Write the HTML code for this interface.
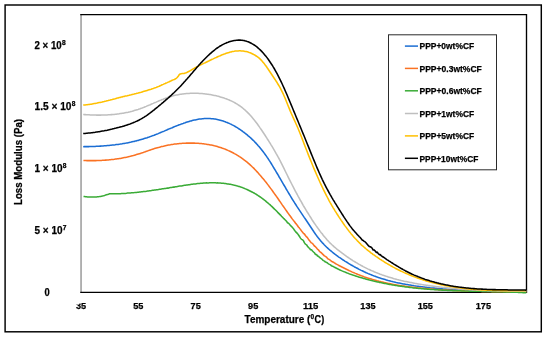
<!DOCTYPE html>
<html><head><meta charset="utf-8"><title>Loss Modulus vs Temperature</title>
<style>html,body{margin:0;padding:0;background:#fff;}svg{display:block;}</style></head>
<body>
<svg width="550" height="338" viewBox="0 0 550 338">
<rect x="0" y="0" width="550" height="338" fill="#fff"/>
<rect x="5.1" y="5.0" width="536.2" height="326.8" fill="none" stroke="#000" stroke-width="1.45"/>
<line x1="81.05" y1="15" x2="81.05" y2="293" stroke="#a0a0a0" stroke-width="1.6"/>
<path d="M80.2 14.65H526.5V292.35H80.3" fill="none" stroke="#000" stroke-width="1.35"/>
<g fill="none" stroke-width="1.55" stroke-linejoin="round" stroke-linecap="butt">
<path d="M83.2 146.7L84.2 146.6L85.2 146.6L86.2 146.6L87.2 146.6L88.2 146.6L89.2 146.6L90.2 146.5L91.2 146.5L92.2 146.5L93.2 146.4L94.2 146.4L95.2 146.4L96.2 146.3L97.2 146.3L98.2 146.2L99.2 146.2L100.2 146.1L101.2 146.1L102.2 146.0L103.2 145.9L104.2 145.8L105.2 145.8L106.2 145.7L107.2 145.6L108.2 145.5L109.2 145.4L110.2 145.3L111.2 145.2L112.2 145.1L113.2 145.0L114.2 144.9L115.2 144.8L116.2 144.6L117.2 144.5L118.2 144.4L119.2 144.2L120.2 144.1L121.2 143.9L122.2 143.8L123.2 143.6L124.2 143.4L125.2 143.2L126.2 143.1L127.2 142.9L128.2 142.7L129.2 142.5L130.2 142.3L131.2 142.1L132.2 141.8L133.2 141.6L134.2 141.4L135.2 141.1L136.2 140.9L137.2 140.6L138.2 140.4L139.2 140.1L140.2 139.8L141.2 139.5L142.2 139.2L143.2 138.9L144.2 138.6L145.2 138.3L146.2 138.0L147.2 137.7L148.2 137.3L149.2 137.0L150.2 136.6L151.2 136.3L152.2 135.9L153.2 135.5L154.2 135.2L155.2 134.8L156.2 134.4L157.2 134.0L158.2 133.6L159.2 133.1L160.2 132.7L161.2 132.3L162.2 131.9L163.2 131.5L164.2 131.1L165.2 130.6L166.2 130.2L167.2 129.8L168.2 129.3L169.2 128.9L170.2 128.5L171.2 128.1L172.2 127.7L173.2 127.2L174.2 126.8L175.2 126.4L176.2 126.0L177.2 125.6L178.2 125.2L179.2 124.8L180.2 124.5L181.2 124.1L182.2 123.7L183.2 123.4L184.2 123.0L185.2 122.7L186.2 122.3L187.2 122.0L188.2 121.7L189.2 121.4L190.2 121.1L191.2 120.9L192.2 120.6L193.2 120.3L194.2 120.1L195.2 119.9L196.2 119.7L197.2 119.5L198.2 119.3L199.2 119.1L200.2 119.0L201.2 118.9L202.2 118.8L203.2 118.7L204.2 118.6L205.2 118.5L206.2 118.5L207.2 118.5L208.2 118.5L209.2 118.5L210.2 118.6L211.2 118.7L212.2 118.7L213.2 118.8L214.2 119.0L215.2 119.1L216.2 119.3L217.2 119.5L218.2 119.7L219.2 119.9L220.2 120.2L221.2 120.5L222.2 120.8L223.2 121.1L224.2 121.4L225.2 121.8L226.2 122.2L227.2 122.5L228.2 123.0L229.2 123.4L230.2 123.9L231.2 124.3L232.2 124.9L233.2 125.4L234.2 125.9L235.2 126.5L236.2 127.1L237.2 127.7L238.2 128.3L239.2 129.0L240.2 129.6L241.2 130.3L242.2 131.0L243.2 131.8L244.2 132.5L245.2 133.3L246.2 134.1L247.2 134.9L248.2 135.8L249.2 136.6L250.2 137.5L251.2 138.4L252.2 139.4L253.2 140.3L254.2 141.3L255.2 142.4L256.2 143.4L257.2 144.5L258.2 145.7L259.2 146.8L260.2 148.0L261.2 149.2L262.2 150.5L263.2 151.8L264.2 153.1L265.2 154.5L266.2 155.9L267.2 157.4L268.2 158.8L269.2 160.4L270.2 161.9L271.2 163.5L272.2 165.2L273.2 166.8L274.2 168.5L275.2 170.1L276.2 171.8L277.2 173.5L278.2 175.2L279.2 177.0L280.2 178.7L281.2 180.4L282.2 182.1L283.2 183.8L284.2 185.5L285.2 187.2L286.2 189.0L287.2 190.7L288.2 192.3L289.2 194.0L290.2 195.7L291.2 197.3L292.2 199.0L293.2 200.6L294.2 202.2L295.2 203.8L296.2 205.3L297.2 206.9L298.2 208.4L299.2 209.9L300.2 211.4L301.2 212.9L302.2 214.4L303.2 215.9L304.2 217.4L305.2 218.8L306.2 220.3L307.2 221.8L308.2 223.3L309.2 224.8L310.2 226.3L311.2 227.8L312.2 229.3L313.2 230.8L314.2 232.3L315.2 233.7L316.2 235.1L317.2 236.5L318.2 237.8L319.2 239.0L320.2 240.2L321.2 241.4L322.2 242.6L323.2 243.6L324.2 244.7L325.2 245.7L326.2 246.7L327.2 247.7L328.2 248.6L329.2 249.5L330.2 250.4L331.2 251.2L332.2 252.0L333.2 252.8L334.2 253.6L335.2 254.4L336.2 255.1L337.2 255.8L338.2 256.6L339.2 257.3L340.2 257.9L341.2 258.6L342.2 259.3L343.2 260.0L344.2 260.6L345.2 261.3L346.2 261.9L347.2 262.5L348.2 263.2L349.2 263.8L350.2 264.4L351.2 265.0L352.2 265.5L353.2 266.1L354.2 266.7L355.2 267.2L356.2 267.8L357.2 268.3L358.2 268.8L359.2 269.4L360.2 269.9L361.2 270.4L362.2 270.8L363.2 271.3L364.2 271.8L365.2 272.2L366.2 272.7L367.2 273.1L368.2 273.6L369.2 274.0L370.2 274.4L371.2 274.8L372.2 275.2L373.2 275.6L374.2 276.0L375.2 276.3L376.2 276.7L377.2 277.1L378.2 277.4L379.2 277.7L380.2 278.1L381.2 278.4L382.2 278.7L383.2 279.0L384.2 279.3L385.2 279.6L386.2 279.9L387.2 280.2L388.2 280.5L389.2 280.7L390.2 281.0L391.2 281.3L392.2 281.5L393.2 281.8L394.2 282.0L395.2 282.2L396.2 282.5L397.2 282.7L398.2 282.9L399.2 283.1L400.2 283.3L401.2 283.5L402.2 283.7L403.2 283.9L404.2 284.1L405.2 284.3L406.2 284.5L407.2 284.6L408.2 284.8L409.2 285.0L410.2 285.1L411.2 285.3L412.2 285.5L413.2 285.6L414.2 285.8L415.2 285.9L416.2 286.1L417.2 286.2L418.2 286.3L419.2 286.5L420.2 286.6L421.2 286.7L422.2 286.8L423.2 287.0L424.2 287.1L425.2 287.2L426.2 287.3L427.2 287.4L428.2 287.5L429.2 287.6L430.2 287.8L431.2 287.9L432.2 288.0L433.2 288.1L434.2 288.1L435.2 288.2L436.2 288.3L437.2 288.4L438.2 288.5L439.2 288.6L440.2 288.7L441.2 288.8L442.2 288.8L443.2 288.9L444.2 289.0L445.2 289.1L446.2 289.1L447.2 289.2L448.2 289.3L449.2 289.4L450.2 289.4L451.2 289.5L452.2 289.5L453.2 289.6L454.2 289.6L455.2 289.7L456.2 289.8L457.2 289.8L458.2 289.9L459.2 289.9L460.2 290.0L461.2 290.0L462.2 290.1L463.2 290.1L464.2 290.1L465.2 290.2L466.2 290.2L467.2 290.3L468.2 290.3L469.2 290.4L470.2 290.4L471.2 290.4L472.2 290.4L473.2 290.5L474.2 290.5L475.2 290.5L476.2 290.6L477.2 290.6L478.2 290.6L479.2 290.7L480.2 290.7L481.2 290.7L482.2 290.7L483.2 290.8L484.2 290.8L485.2 290.8L486.2 290.8L487.2 290.8L488.2 290.9L489.2 290.9L490.2 290.9L491.2 290.9L492.2 290.9L493.2 290.9L494.2 291.0L495.2 291.0L496.2 291.0L497.2 291.0L498.2 291.0L499.2 291.0L500.2 291.1L501.2 291.1L502.2 291.1L503.2 291.1L504.2 291.1L505.2 291.1L506.2 291.1L507.2 291.1L508.2 291.1L509.2 291.2L510.2 291.2L511.2 291.2L512.2 291.2L513.2 291.2L514.2 291.2L515.2 291.2L516.2 291.3L517.2 291.3L518.2 291.3L519.2 291.3L520.2 291.3L521.2 291.3L522.2 291.3L523.2 291.4L524.2 291.4L525.2 291.4L526.3 291.4" stroke="#1a6dd3"/>
<path d="M83.4 160.5L84.4 160.5L85.4 160.5L86.4 160.6L87.4 160.6L88.4 160.6L89.4 160.6L90.4 160.6L91.4 160.6L92.4 160.6L93.4 160.6L94.4 160.6L95.4 160.6L96.4 160.6L97.4 160.5L98.4 160.5L99.4 160.5L100.4 160.4L101.4 160.4L102.4 160.3L103.4 160.3L104.4 160.2L105.4 160.1L106.4 160.1L107.4 160.0L108.4 159.9L109.4 159.8L110.4 159.7L111.4 159.6L112.4 159.5L113.4 159.4L114.4 159.3L115.4 159.1L116.4 159.0L117.4 158.8L118.4 158.7L119.4 158.5L120.4 158.4L121.4 158.2L122.4 158.0L123.4 157.8L124.4 157.6L125.4 157.4L126.4 157.2L127.4 157.0L128.4 156.7L129.4 156.5L130.4 156.3L131.4 156.0L132.4 155.7L133.4 155.5L134.4 155.2L135.4 154.9L136.4 154.6L137.4 154.3L138.4 154.0L139.4 153.7L140.4 153.4L141.4 153.1L142.4 152.7L143.4 152.4L144.4 152.0L145.4 151.7L146.4 151.3L147.4 151.0L148.4 150.6L149.4 150.2L150.4 149.9L151.4 149.6L152.4 149.2L153.4 148.9L154.4 148.6L155.4 148.3L156.4 148.0L157.4 147.7L158.4 147.4L159.4 147.2L160.4 146.9L161.4 146.6L162.4 146.4L163.4 146.2L164.4 145.9L165.4 145.7L166.4 145.5L167.4 145.3L168.4 145.1L169.4 144.9L170.4 144.8L171.4 144.6L172.4 144.4L173.4 144.3L174.4 144.1L175.4 144.0L176.4 143.9L177.4 143.8L178.4 143.7L179.4 143.6L180.4 143.5L181.4 143.4L182.4 143.3L183.4 143.3L184.4 143.2L185.4 143.2L186.4 143.1L187.4 143.1L188.4 143.1L189.4 143.1L190.4 143.1L191.4 143.1L192.4 143.1L193.4 143.1L194.4 143.1L195.4 143.2L196.4 143.2L197.4 143.3L198.4 143.3L199.4 143.4L200.4 143.5L201.4 143.6L202.4 143.7L203.4 143.8L204.4 143.9L205.4 144.1L206.4 144.2L207.4 144.4L208.4 144.5L209.4 144.7L210.4 144.9L211.4 145.1L212.4 145.3L213.4 145.5L214.4 145.8L215.4 146.0L216.4 146.3L217.4 146.6L218.4 146.9L219.4 147.2L220.4 147.5L221.4 147.8L222.4 148.2L223.4 148.5L224.4 148.9L225.4 149.3L226.4 149.7L227.4 150.1L228.4 150.6L229.4 151.0L230.4 151.5L231.4 152.0L232.4 152.5L233.4 153.0L234.4 153.6L235.4 154.1L236.4 154.7L237.4 155.3L238.4 155.9L239.4 156.6L240.4 157.2L241.4 157.9L242.4 158.6L243.4 159.3L244.4 160.1L245.4 160.8L246.4 161.6L247.4 162.4L248.4 163.3L249.4 164.2L250.4 165.1L251.4 166.0L252.4 167.0L253.4 167.9L254.4 168.9L255.4 170.0L256.4 171.1L257.4 172.1L258.4 173.2L259.4 174.4L260.4 175.5L261.4 176.7L262.4 177.9L263.4 179.1L264.4 180.3L265.4 181.6L266.4 182.8L267.4 184.1L268.4 185.4L269.4 186.8L270.4 188.1L271.4 189.4L272.4 190.8L273.4 192.2L274.4 193.6L275.4 195.0L276.4 196.4L277.4 197.8L278.4 199.2L279.4 200.7L280.4 202.1L281.4 203.6L282.4 205.1L283.4 206.5L284.4 207.9L285.4 209.4L286.4 210.8L287.4 212.2L288.4 213.6L289.4 215.0L290.4 216.3L291.4 217.7L292.4 219.1L293.4 220.4L294.4 221.5L295.4 223.1L296.4 224.1L297.4 225.5L298.4 227.0L299.4 228.1L300.4 229.4L301.4 230.8L302.4 232.1L303.4 233.3L304.4 234.0L305.4 235.5L306.4 236.7L307.4 237.6L308.4 239.2L309.4 240.4L310.4 241.7L311.4 242.9L312.4 243.4L313.4 244.6L314.4 246.0L315.4 246.7L316.4 247.8L317.4 249.1L318.4 249.8L319.4 251.2L320.4 252.2L321.4 252.7L322.4 253.9L323.4 254.9L324.4 255.9L325.4 256.4L326.4 257.1L327.4 258.3L328.4 259.1L329.4 259.5L330.4 260.3L331.4 261.1L332.4 261.8L333.4 262.2L334.4 262.9L335.4 263.5L336.4 264.1L337.4 264.6L338.4 265.2L339.4 265.7L340.4 266.2L341.4 266.7L342.4 267.2L343.4 267.7L344.4 268.2L345.4 268.7L346.4 269.2L347.4 269.7L348.4 270.2L349.4 270.7L350.4 271.1L351.4 271.6L352.4 272.1L353.4 272.5L354.4 272.9L355.4 273.4L356.4 273.8L357.4 274.2L358.4 274.6L359.4 275.0L360.4 275.4L361.4 275.8L362.4 276.1L363.4 276.5L364.4 276.9L365.4 277.2L366.4 277.6L367.4 277.9L368.4 278.2L369.4 278.5L370.4 278.8L371.4 279.1L372.4 279.4L373.4 279.7L374.4 280.0L375.4 280.3L376.4 280.6L377.4 280.9L378.4 281.1L379.4 281.4L380.4 281.6L381.4 281.9L382.4 282.1L383.4 282.3L384.4 282.6L385.4 282.8L386.4 283.0L387.4 283.2L388.4 283.4L389.4 283.6L390.4 283.8L391.4 284.0L392.4 284.2L393.4 284.4L394.4 284.6L395.4 284.7L396.4 284.9L397.4 285.1L398.4 285.2L399.4 285.4L400.4 285.6L401.4 285.7L402.4 285.9L403.4 286.0L404.4 286.1L405.4 286.3L406.4 286.4L407.4 286.6L408.4 286.7L409.4 286.8L410.4 286.9L411.4 287.1L412.4 287.2L413.4 287.3L414.4 287.4L415.4 287.5L416.4 287.6L417.4 287.8L418.4 287.9L419.4 288.0L420.4 288.1L421.4 288.2L422.4 288.3L423.4 288.4L424.4 288.5L425.4 288.6L426.4 288.6L427.4 288.7L428.4 288.8L429.4 288.9L430.4 289.0L431.4 289.1L432.4 289.1L433.4 289.2L434.4 289.3L435.4 289.4L436.4 289.4L437.4 289.5L438.4 289.6L439.4 289.6L440.4 289.7L441.4 289.8L442.4 289.8L443.4 289.9L444.4 290.0L445.4 290.0L446.4 290.1L447.4 290.1L448.4 290.2L449.4 290.2L450.4 290.3L451.4 290.3L452.4 290.4L453.4 290.4L454.4 290.5L455.4 290.5L456.4 290.6L457.4 290.6L458.4 290.6L459.4 290.7L460.4 290.7L461.4 290.8L462.4 290.8L463.4 290.8L464.4 290.9L465.4 290.9L466.4 290.9L467.4 291.0L468.4 291.0L469.4 291.0L470.4 291.1L471.4 291.1L472.4 291.1L473.4 291.1L474.4 291.2L475.4 291.2L476.4 291.2L477.4 291.3L478.4 291.3L479.4 291.3L480.4 291.3L481.4 291.4L482.4 291.4L483.4 291.4L484.4 291.4L485.4 291.4L486.4 291.5L487.4 291.5L488.4 291.5L489.4 291.5L490.4 291.5L491.4 291.6L492.4 291.6L493.4 291.6L494.4 291.6L495.4 291.6L496.4 291.7L497.4 291.7L498.4 291.7L499.4 291.7L500.4 291.7L501.4 291.8L502.4 291.8L503.4 291.8L504.4 291.8L505.4 291.8L506.4 291.9L507.4 291.9L508.4 291.9L509.4 291.9L510.4 291.9L511.4 291.9L512.4 292.0L513.4 292.0L514.4 292.0L515.4 292.0L516.4 292.1L517.4 292.1L518.4 292.1L519.4 292.1L520.4 292.2L521.4 292.2L522.4 292.2L523.4 292.2L524.4 292.3L526.3 292.3" stroke="#fa7223"/>
<path d="M83.5 196.4L84.5 196.5L85.5 196.7L86.5 196.8L87.5 196.9L88.5 197.0L89.5 197.0L90.5 197.0L91.5 197.0L92.5 197.0L93.5 197.0L94.5 197.0L95.5 196.9L96.5 196.9L97.5 196.8L98.5 196.7L99.5 196.6L100.5 196.4L101.5 196.2L102.5 196.0L103.5 195.8L104.5 195.5L105.5 195.1L106.5 194.8L107.5 194.5L108.5 194.2L109.5 193.8L110.5 193.7L111.5 193.7L112.5 193.7L113.5 193.7L114.5 193.8L115.5 193.8L116.5 193.8L117.5 193.7L118.5 193.8L119.5 193.8L120.5 193.7L121.5 193.6L122.5 193.5L123.5 193.6L124.5 193.5L125.5 193.4L126.5 193.3L127.5 193.1L128.5 193.0L129.5 192.9L130.5 192.9L131.5 192.8L132.5 192.8L133.5 192.7L134.5 192.6L135.5 192.4L136.5 192.4L137.5 192.3L138.5 192.2L139.5 192.0L140.5 192.0L141.5 191.8L142.5 191.8L143.5 191.6L144.5 191.4L145.5 191.4L146.5 191.3L147.5 191.0L148.5 191.0L149.5 190.8L150.5 190.8L151.5 190.6L152.5 190.3L153.5 190.3L154.5 190.1L155.5 190.0L156.5 189.8L157.5 189.7L158.5 189.6L159.5 189.3L160.5 189.2L161.5 189.0L162.5 188.8L163.5 188.8L164.5 188.6L165.5 188.5L166.5 188.3L167.5 188.1L168.5 188.1L169.5 187.7L170.5 187.5L171.5 187.5L172.5 187.3L173.5 187.1L174.5 187.1L175.5 186.8L176.5 186.7L177.5 186.5L178.5 186.3L179.5 186.1L180.5 185.9L181.5 186.0L182.5 185.7L183.5 185.4L184.5 185.3L185.5 185.3L186.5 185.0L187.5 185.0L188.5 184.7L189.5 184.8L190.5 184.5L191.5 184.3L192.5 184.3L193.5 184.1L194.5 184.0L195.5 183.9L196.5 183.7L197.5 183.6L198.5 183.5L199.5 183.4L200.5 183.2L201.5 183.2L202.5 183.3L203.5 183.0L204.5 183.0L205.5 182.9L206.5 182.8L207.5 182.9L208.5 182.9L209.5 182.8L210.5 182.7L211.5 182.8L212.5 182.7L213.5 182.7L214.5 182.8L215.5 182.8L216.5 182.9L217.5 182.8L218.5 182.9L219.5 183.0L220.5 183.1L221.5 183.2L222.5 183.2L223.5 183.2L224.5 183.4L225.5 183.5L226.5 183.7L227.5 183.9L228.5 183.9L229.5 184.2L230.5 184.3L231.5 184.6L232.5 184.7L233.5 185.0L234.5 185.2L235.5 185.4L236.5 185.8L237.5 186.0L238.5 186.4L239.5 186.6L240.5 186.9L241.5 187.3L242.5 187.6L243.5 188.1L244.5 188.4L245.5 188.9L246.5 189.3L247.5 189.7L248.5 190.2L249.5 190.7L250.5 191.2L251.5 191.7L252.5 192.2L253.5 192.8L254.5 193.3L255.5 193.9L256.5 194.5L257.5 195.2L258.5 195.8L259.5 196.5L260.5 197.2L261.5 197.9L262.5 198.6L263.5 199.4L264.5 200.2L265.5 200.9L266.5 201.8L267.5 202.6L268.5 203.5L269.5 204.3L270.5 205.2L271.5 206.2L272.5 207.1L273.5 208.1L274.5 209.1L275.5 210.0L276.5 211.0L277.5 212.1L278.5 213.1L279.5 214.1L280.5 215.1L281.5 216.2L282.5 217.2L283.5 218.3L284.5 219.2L285.5 220.2L286.5 221.3L287.5 222.7L288.5 223.2L289.5 224.2L290.5 225.6L291.5 226.4L292.5 227.6L293.5 228.7L294.5 230.3L295.5 231.6L296.5 232.6L297.5 233.6L298.5 235.0L299.5 236.5L300.5 238.1L301.5 239.4L302.5 239.8L303.5 240.8L304.5 242.9L305.5 244.2L306.5 244.8L307.5 246.3L308.5 247.5L309.5 248.3L310.5 249.7L311.5 249.8L312.5 251.0L313.5 252.0L314.5 252.8L315.5 254.5L316.5 254.5L317.5 256.0L318.5 256.3L319.5 257.4L320.5 258.2L321.5 258.8L322.5 259.8L323.5 260.6L324.5 261.1L325.5 262.1L326.5 262.3L327.5 263.0L328.5 263.8L329.5 264.4L330.5 264.9L331.5 265.8L332.5 266.3L333.5 266.6L334.5 267.3L335.5 267.8L336.5 268.3L337.5 268.8L338.5 269.3L339.5 269.7L340.5 270.2L341.5 270.6L342.5 271.1L343.5 271.5L344.5 271.9L345.5 272.3L346.5 272.7L347.5 273.1L348.5 273.5L349.5 273.9L350.5 274.2L351.5 274.6L352.5 274.9L353.5 275.3L354.5 275.6L355.5 275.9L356.5 276.2L357.5 276.6L358.5 276.9L359.5 277.2L360.5 277.5L361.5 277.8L362.5 278.1L363.5 278.4L364.5 278.6L365.5 278.9L366.5 279.2L367.5 279.5L368.5 279.7L369.5 280.0L370.5 280.2L371.5 280.5L372.5 280.7L373.5 281.0L374.5 281.2L375.5 281.5L376.5 281.7L377.5 281.9L378.5 282.1L379.5 282.4L380.5 282.6L381.5 282.8L382.5 283.0L383.5 283.2L384.5 283.4L385.5 283.6L386.5 283.8L387.5 284.0L388.5 284.2L389.5 284.4L390.5 284.6L391.5 284.7L392.5 284.9L393.5 285.1L394.5 285.2L395.5 285.4L396.5 285.6L397.5 285.7L398.5 285.9L399.5 286.0L400.5 286.2L401.5 286.3L402.5 286.5L403.5 286.6L404.5 286.8L405.5 286.9L406.5 287.0L407.5 287.1L408.5 287.3L409.5 287.4L410.5 287.5L411.5 287.6L412.5 287.7L413.5 287.9L414.5 288.0L415.5 288.1L416.5 288.2L417.5 288.3L418.5 288.4L419.5 288.5L420.5 288.6L421.5 288.7L422.5 288.8L423.5 288.8L424.5 288.9L425.5 289.0L426.5 289.1L427.5 289.2L428.5 289.2L429.5 289.3L430.5 289.4L431.5 289.5L432.5 289.5L433.5 289.6L434.5 289.7L435.5 289.7L436.5 289.8L437.5 289.8L438.5 289.9L439.5 290.0L440.5 290.0L441.5 290.1L442.5 290.1L443.5 290.2L444.5 290.2L445.5 290.3L446.5 290.3L447.5 290.4L448.5 290.4L449.5 290.4L450.5 290.5L451.5 290.5L452.5 290.6L453.5 290.6L454.5 290.6L455.5 290.7L456.5 290.7L457.5 290.7L458.5 290.8L459.5 290.8L460.5 290.8L461.5 290.9L462.5 290.9L463.5 290.9L464.5 290.9L465.5 291.0L466.5 291.0L467.5 291.0L468.5 291.1L469.5 291.1L470.5 291.1L471.5 291.1L472.5 291.1L473.5 291.2L474.5 291.2L475.5 291.2L476.5 291.2L477.5 291.3L478.5 291.3L479.5 291.3L480.5 291.3L481.5 291.3L482.5 291.4L483.5 291.4L484.5 291.4L485.5 291.4L486.5 291.4L487.5 291.5L488.5 291.5L489.5 291.5L490.5 291.5L491.5 291.6L492.5 291.6L493.5 291.6L494.5 291.6L495.5 291.6L496.5 291.7L497.5 291.7L498.5 291.7L499.5 291.7L500.5 291.8L501.5 291.8L502.5 291.8L503.5 291.9L504.5 291.9L505.5 291.9L506.5 291.9L507.5 292.0L508.5 292.0L509.5 292.0L510.5 292.1L511.5 292.1L512.5 292.1L513.5 292.2L514.5 292.2L515.5 292.2L516.5 292.3L517.5 292.3L518.5 292.4L519.5 292.4L520.5 292.5L521.5 292.5L522.5 292.6L523.5 292.6L524.5 292.7L526.3 292.8" stroke="#3aab36"/>
<path d="M83.2 114.5L84.2 114.6L85.2 114.6L86.2 114.7L87.2 114.8L88.2 114.8L89.2 114.8L90.2 114.9L91.2 114.9L92.2 115.0L93.2 115.0L94.2 115.0L95.2 115.0L96.2 115.1L97.2 115.1L98.2 115.1L99.2 115.1L100.2 115.1L101.2 115.1L102.2 115.0L103.2 115.0L104.2 115.0L105.2 115.0L106.2 114.9L107.2 114.9L108.2 114.8L109.2 114.8L110.2 114.7L111.2 114.6L112.2 114.6L113.2 114.5L114.2 114.4L115.2 114.3L116.2 114.2L117.2 114.0L118.2 113.9L119.2 113.8L120.2 113.6L121.2 113.5L122.2 113.3L123.2 113.2L124.2 113.0L125.2 112.8L126.2 112.6L127.2 112.4L128.2 112.2L129.2 111.9L130.2 111.7L131.2 111.4L132.2 111.2L133.2 110.9L134.2 110.6L135.2 110.3L136.2 110.0L137.2 109.7L138.2 109.4L139.2 109.0L140.2 108.7L141.2 108.3L142.2 108.0L143.2 107.6L144.2 107.2L145.2 106.8L146.2 106.4L147.2 105.9L148.2 105.5L149.2 105.1L150.2 104.7L151.2 104.2L152.2 103.8L153.2 103.4L154.2 102.9L155.2 102.5L156.2 102.1L157.2 101.6L158.2 101.2L159.2 100.8L160.2 100.4L161.2 100.0L162.2 99.5L163.2 99.2L164.2 98.8L165.2 98.4L166.2 98.0L167.2 97.7L168.2 97.3L169.2 97.0L170.2 96.7L171.2 96.4L172.2 96.1L173.2 95.8L174.2 95.6L175.2 95.3L176.2 95.1L177.2 94.9L178.2 94.7L179.2 94.5L180.2 94.3L181.2 94.2L182.2 94.0L183.2 93.9L184.2 93.8L185.2 93.7L186.2 93.6L187.2 93.5L188.2 93.4L189.2 93.4L190.2 93.3L191.2 93.3L192.2 93.3L193.2 93.2L194.2 93.2L195.2 93.2L196.2 93.3L197.2 93.3L198.2 93.3L199.2 93.4L200.2 93.4L201.2 93.5L202.2 93.6L203.2 93.7L204.2 93.8L205.2 93.9L206.2 94.0L207.2 94.2L208.2 94.3L209.2 94.5L210.2 94.6L211.2 94.8L212.2 95.0L213.2 95.2L214.2 95.4L215.2 95.6L216.2 95.8L217.2 96.1L218.2 96.3L219.2 96.6L220.2 96.9L221.2 97.2L222.2 97.5L223.2 97.8L224.2 98.1L225.2 98.5L226.2 98.8L227.2 99.2L228.2 99.6L229.2 100.0L230.2 100.5L231.2 100.9L232.2 101.4L233.2 101.9L234.2 102.4L235.2 103.0L236.2 103.6L237.2 104.2L238.2 104.8L239.2 105.5L240.2 106.2L241.2 106.9L242.2 107.7L243.2 108.5L244.2 109.4L245.2 110.2L246.2 111.2L247.2 112.1L248.2 113.1L249.2 114.1L250.2 115.2L251.2 116.3L252.2 117.5L253.2 118.7L254.2 119.9L255.2 121.2L256.2 122.5L257.2 123.8L258.2 125.2L259.2 126.6L260.2 128.1L261.2 129.5L262.2 131.0L263.2 132.5L264.2 134.0L265.2 135.5L266.2 137.1L267.2 138.7L268.2 140.2L269.2 141.8L270.2 143.4L271.2 145.1L272.2 146.7L273.2 148.4L274.2 150.1L275.2 151.8L276.2 153.6L277.2 155.3L278.2 157.2L279.2 159.0L280.2 160.9L281.2 162.9L282.2 164.9L283.2 166.9L284.2 168.9L285.2 171.0L286.2 173.0L287.2 175.0L288.2 177.1L289.2 179.1L290.2 181.1L291.2 183.0L292.2 185.0L293.2 186.9L294.2 188.9L295.2 190.8L296.2 192.7L297.2 194.5L298.2 196.4L299.2 198.2L300.2 200.0L301.2 201.7L302.2 203.5L303.2 205.3L304.2 207.0L305.2 208.7L306.2 210.4L307.2 212.0L308.2 213.5L309.2 215.2L310.2 216.8L311.2 218.3L312.2 220.0L313.2 221.5L314.2 223.0L315.2 224.4L316.2 225.9L317.2 227.2L318.2 228.6L319.2 230.0L320.2 231.4L321.2 232.7L322.2 233.8L323.2 235.2L324.2 236.4L325.2 237.6L326.2 238.7L327.2 239.9L328.2 241.0L329.2 242.1L330.2 243.1L331.2 244.0L332.2 245.0L333.2 245.9L334.2 246.9L335.2 247.7L336.2 248.5L337.2 249.4L338.2 250.1L339.2 250.9L340.2 251.7L341.2 252.4L342.2 253.2L343.2 253.9L344.2 254.7L345.2 255.4L346.2 256.1L347.2 256.8L348.2 257.5L349.2 258.2L350.2 258.8L351.2 259.5L352.2 260.1L353.2 260.8L354.2 261.4L355.2 262.0L356.2 262.6L357.2 263.2L358.2 263.8L359.2 264.4L360.2 264.9L361.2 265.5L362.2 266.0L363.2 266.6L364.2 267.1L365.2 267.6L366.2 268.1L367.2 268.6L368.2 269.1L369.2 269.5L370.2 270.0L371.2 270.5L372.2 270.9L373.2 271.3L374.2 271.8L375.2 272.2L376.2 272.6L377.2 273.0L378.2 273.4L379.2 273.8L380.2 274.2L381.2 274.5L382.2 274.9L383.2 275.2L384.2 275.6L385.2 275.9L386.2 276.3L387.2 276.6L388.2 276.9L389.2 277.2L390.2 277.5L391.2 277.8L392.2 278.1L393.2 278.4L394.2 278.7L395.2 278.9L396.2 279.2L397.2 279.5L398.2 279.7L399.2 280.0L400.2 280.2L401.2 280.5L402.2 280.7L403.2 280.9L404.2 281.2L405.2 281.4L406.2 281.6L407.2 281.8L408.2 282.0L409.2 282.2L410.2 282.4L411.2 282.6L412.2 282.8L413.2 283.0L414.2 283.2L415.2 283.4L416.2 283.5L417.2 283.7L418.2 283.9L419.2 284.1L420.2 284.2L421.2 284.4L422.2 284.6L423.2 284.7L424.2 284.9L425.2 285.0L426.2 285.2L427.2 285.3L428.2 285.5L429.2 285.6L430.2 285.8L431.2 285.9L432.2 286.0L433.2 286.2L434.2 286.3L435.2 286.4L436.2 286.6L437.2 286.7L438.2 286.8L439.2 286.9L440.2 287.1L441.2 287.2L442.2 287.3L443.2 287.4L444.2 287.5L445.2 287.6L446.2 287.7L447.2 287.8L448.2 287.9L449.2 288.0L450.2 288.1L451.2 288.2L452.2 288.3L453.2 288.4L454.2 288.5L455.2 288.6L456.2 288.7L457.2 288.8L458.2 288.9L459.2 288.9L460.2 289.0L461.2 289.1L462.2 289.2L463.2 289.3L464.2 289.3L465.2 289.4L466.2 289.5L467.2 289.5L468.2 289.6L469.2 289.7L470.2 289.7L471.2 289.8L472.2 289.9L473.2 289.9L474.2 290.0L475.2 290.0L476.2 290.1L477.2 290.1L478.2 290.2L479.2 290.2L480.2 290.3L481.2 290.3L482.2 290.4L483.2 290.4L484.2 290.4L485.2 290.5L486.2 290.5L487.2 290.6L488.2 290.6L489.2 290.6L490.2 290.7L491.2 290.7L492.2 290.7L493.2 290.8L494.2 290.8L495.2 290.8L496.2 290.8L497.2 290.9L498.2 290.9L499.2 290.9L500.2 290.9L501.2 290.9L502.2 291.0L503.2 291.0L504.2 291.0L505.2 291.0L506.2 291.0L507.2 291.1L508.2 291.1L509.2 291.1L510.2 291.1L511.2 291.1L512.2 291.1L513.2 291.1L514.2 291.1L515.2 291.1L516.2 291.1L517.2 291.1L518.2 291.1L519.2 291.1L520.2 291.1L521.2 291.1L522.2 291.1L523.2 291.1L524.2 291.1L525.2 291.1L526.3 291.1" stroke="#bfbfbf"/>
<path d="M83.2 105.1L84.2 105.0L85.2 104.9L86.2 104.8L87.2 104.7L88.2 104.6L89.2 104.5L90.2 104.3L91.2 104.2L92.2 104.0L93.2 103.8L94.2 103.6L95.2 103.5L96.2 103.3L97.2 103.1L98.2 102.8L99.2 102.6L100.2 102.4L101.2 102.2L102.2 102.0L103.2 101.7L104.2 101.5L105.2 101.2L106.2 101.0L107.2 100.7L108.2 100.5L109.2 100.2L110.2 100.0L111.2 99.7L112.2 99.5L113.2 99.2L114.2 98.9L115.2 98.7L116.2 98.4L117.2 98.1L118.2 97.9L119.2 97.6L120.2 97.4L121.2 97.1L122.2 96.9L123.2 96.6L124.2 96.4L125.2 96.1L126.2 95.9L127.2 95.7L128.2 95.4L129.2 95.2L130.2 94.9L131.2 94.7L132.2 94.4L133.2 94.2L134.2 94.0L135.2 93.7L136.2 93.5L137.2 93.2L138.2 93.0L139.2 92.7L140.2 92.4L141.2 92.2L142.2 91.9L143.2 91.6L144.2 91.3L145.2 91.0L146.2 90.7L147.2 90.4L148.2 90.1L149.2 89.8L150.2 89.5L151.2 89.2L152.2 88.8L153.2 88.5L154.2 88.1L155.2 87.7L156.2 87.4L157.2 87.0L158.2 86.6L159.2 86.2L160.2 85.7L161.2 85.3L162.2 84.8L163.2 84.4L164.2 83.9L165.2 83.5L166.2 83.0L167.2 82.6L168.2 82.1L169.2 81.7L170.2 81.2L171.2 80.8L172.2 80.3L173.2 79.9L174.2 79.5L175.2 79.0L176.2 78.4L177.2 77.5L178.2 76.2L179.2 74.7L180.2 74.0L181.2 73.7L182.2 73.6L183.2 73.5L184.2 73.4L185.2 73.1L186.2 72.7L187.2 72.3L188.2 71.8L189.2 71.3L190.2 70.7L191.2 70.1L192.2 69.5L193.2 68.9L194.2 68.3L195.2 67.8L196.2 67.2L197.2 66.7L198.2 66.2L199.2 65.6L200.2 65.1L201.2 64.6L202.2 64.1L203.2 63.6L204.2 63.1L205.2 62.7L206.2 62.2L207.2 61.7L208.2 61.2L209.2 60.8L210.2 60.3L211.2 59.8L212.2 59.3L213.2 58.9L214.2 58.4L215.2 57.9L216.2 57.5L217.2 57.0L218.2 56.5L219.2 56.1L220.2 55.7L221.2 55.2L222.2 54.8L223.2 54.4L224.2 54.1L225.2 53.7L226.2 53.3L227.2 53.0L228.2 52.7L229.2 52.4L230.2 52.1L231.2 51.9L232.2 51.6L233.2 51.4L234.2 51.3L235.2 51.1L236.2 51.0L237.2 50.9L238.2 50.9L239.2 50.8L240.2 50.8L241.2 50.9L242.2 50.9L243.2 51.0L244.2 51.2L245.2 51.4L246.2 51.6L247.2 51.8L248.2 52.1L249.2 52.5L250.2 52.8L251.2 53.2L252.2 53.7L253.2 54.2L254.2 54.8L255.2 55.3L256.2 56.0L257.2 56.7L258.2 57.4L259.2 58.2L260.2 59.1L261.2 60.1L262.2 61.2L263.2 62.4L264.2 63.6L265.2 65.0L266.2 66.3L267.2 67.8L268.2 69.2L269.2 70.7L270.2 72.2L271.2 73.7L272.2 75.2L273.2 76.7L274.2 78.2L275.2 79.7L276.2 81.3L277.2 82.8L278.2 84.5L279.2 86.2L280.2 87.9L281.2 89.8L282.2 91.8L283.2 93.9L284.2 96.2L285.2 98.5L286.2 101.0L287.2 103.5L288.2 106.0L289.2 108.4L290.2 110.9L291.2 113.2L292.2 115.4L293.2 117.7L294.2 119.8L295.2 122.0L296.2 124.2L297.2 126.5L298.2 128.8L299.2 131.2L300.2 133.7L301.2 136.3L302.2 138.9L303.2 141.5L304.2 144.1L305.2 146.7L306.2 149.3L307.2 151.8L308.2 154.4L309.2 156.9L310.2 159.4L311.2 161.8L312.2 164.3L313.2 166.7L314.2 169.1L315.2 171.4L316.2 173.7L317.2 176.0L318.2 178.3L319.2 180.5L320.2 182.7L321.2 184.9L322.2 187.0L323.2 189.1L324.2 191.1L325.2 193.1L326.2 195.1L327.2 197.0L328.2 198.9L329.2 200.8L330.2 202.6L331.2 204.3L332.2 206.1L333.2 207.8L334.2 209.4L335.2 211.1L336.2 212.7L337.2 214.3L338.2 215.8L339.2 217.4L340.2 218.9L341.2 220.4L342.2 221.8L343.2 223.3L344.2 224.7L345.2 226.1L346.2 227.4L347.2 228.8L348.2 230.1L349.2 231.4L350.2 232.6L351.2 233.9L352.2 235.1L353.2 236.3L354.2 237.4L355.2 238.5L356.2 239.5L357.2 240.6L358.2 241.6L359.2 242.7L360.2 243.6L361.2 244.8L362.2 245.7L363.2 246.3L364.2 247.3L365.2 248.1L366.2 249.0L367.2 249.8L368.2 250.7L369.2 251.4L370.2 252.2L371.2 253.1L372.2 253.7L373.2 254.6L374.2 255.0L375.2 255.9L376.2 256.6L377.2 257.2L378.2 258.0L379.2 258.6L380.2 259.3L381.2 259.9L382.2 260.6L383.2 261.2L384.2 261.8L385.2 262.5L386.2 263.1L387.2 263.7L388.2 264.3L389.2 264.8L390.2 265.4L391.2 266.0L392.2 266.5L393.2 267.1L394.2 267.6L395.2 268.2L396.2 268.7L397.2 269.2L398.2 269.7L399.2 270.2L400.2 270.7L401.2 271.2L402.2 271.6L403.2 272.1L404.2 272.6L405.2 273.0L406.2 273.5L407.2 273.9L408.2 274.3L409.2 274.8L410.2 275.2L411.2 275.6L412.2 276.0L413.2 276.4L414.2 276.8L415.2 277.1L416.2 277.5L417.2 277.9L418.2 278.2L419.2 278.6L420.2 278.9L421.2 279.3L422.2 279.6L423.2 279.9L424.2 280.2L425.2 280.6L426.2 280.9L427.2 281.2L428.2 281.4L429.2 281.7L430.2 282.0L431.2 282.3L432.2 282.6L433.2 282.8L434.2 283.1L435.2 283.3L436.2 283.6L437.2 283.8L438.2 284.1L439.2 284.3L440.2 284.5L441.2 284.7L442.2 284.9L443.2 285.1L444.2 285.4L445.2 285.6L446.2 285.8L447.2 285.9L448.2 286.1L449.2 286.3L450.2 286.5L451.2 286.6L452.2 286.8L453.2 287.0L454.2 287.1L455.2 287.3L456.2 287.4L457.2 287.6L458.2 287.7L459.2 287.8L460.2 288.0L461.2 288.1L462.2 288.2L463.2 288.3L464.2 288.4L465.2 288.6L466.2 288.7L467.2 288.8L468.2 288.9L469.2 289.0L470.2 289.1L471.2 289.1L472.2 289.2L473.2 289.3L474.2 289.4L475.2 289.5L476.2 289.5L477.2 289.6L478.2 289.7L479.2 289.7L480.2 289.8L481.2 289.9L482.2 289.9L483.2 290.0L484.2 290.0L485.2 290.1L486.2 290.1L487.2 290.2L488.2 290.2L489.2 290.2L490.2 290.3L491.2 290.3L492.2 290.4L493.2 290.4L494.2 290.4L495.2 290.4L496.2 290.5L497.2 290.5L498.2 290.5L499.2 290.5L500.2 290.6L501.2 290.6L502.2 290.6L503.2 290.6L504.2 290.6L505.2 290.6L506.2 290.6L507.2 290.7L508.2 290.7L509.2 290.7L510.2 290.7L511.2 290.7L512.2 290.7L513.2 290.7L514.2 290.7L515.2 290.7L516.2 290.7L517.2 290.7L518.2 290.7L519.2 290.7L520.2 290.8L521.2 290.8L522.2 290.8L523.2 290.8L524.2 290.8L525.2 290.8L526.3 290.8" stroke="#ffc000"/>
<path d="M83.2 133.6L84.2 133.5L85.2 133.4L86.2 133.3L87.2 133.2L88.2 133.1L89.2 133.0L90.2 132.9L91.2 132.8L92.2 132.7L93.2 132.5L94.2 132.4L95.2 132.3L96.2 132.1L97.2 132.0L98.2 131.8L99.2 131.7L100.2 131.5L101.2 131.3L102.2 131.1L103.2 130.9L104.2 130.8L105.2 130.6L106.2 130.4L107.2 130.2L108.2 129.9L109.2 129.7L110.2 129.5L111.2 129.3L112.2 129.1L113.2 128.8L114.2 128.6L115.2 128.3L116.2 128.1L117.2 127.8L118.2 127.5L119.2 127.3L120.2 127.0L121.2 126.7L122.2 126.5L123.2 126.2L124.2 125.9L125.2 125.6L126.2 125.2L127.2 124.9L128.2 124.6L129.2 124.2L130.2 123.9L131.2 123.5L132.2 123.1L133.2 122.7L134.2 122.3L135.2 121.9L136.2 121.4L137.2 121.0L138.2 120.5L139.2 120.0L140.2 119.4L141.2 118.9L142.2 118.3L143.2 117.7L144.2 117.1L145.2 116.4L146.2 115.8L147.2 115.1L148.2 114.3L149.2 113.6L150.2 112.9L151.2 112.1L152.2 111.3L153.2 110.5L154.2 109.8L155.2 108.9L156.2 108.1L157.2 107.3L158.2 106.5L159.2 105.6L160.2 104.8L161.2 104.0L162.2 103.1L163.2 102.3L164.2 101.4L165.2 100.6L166.2 99.7L167.2 98.8L168.2 98.0L169.2 97.1L170.2 96.2L171.2 95.3L172.2 94.3L173.2 93.4L174.2 92.5L175.2 91.5L176.2 90.5L177.2 89.5L178.2 88.5L179.2 87.5L180.2 86.5L181.2 85.4L182.2 84.3L183.2 83.2L184.2 82.1L185.2 81.0L186.2 79.8L187.2 78.7L188.2 77.5L189.2 76.4L190.2 75.2L191.2 74.0L192.2 72.9L193.2 71.7L194.2 70.5L195.2 69.4L196.2 68.2L197.2 67.1L198.2 66.0L199.2 64.8L200.2 63.7L201.2 62.6L202.2 61.6L203.2 60.5L204.2 59.5L205.2 58.5L206.2 57.5L207.2 56.5L208.2 55.5L209.2 54.6L210.2 53.7L211.2 52.8L212.2 51.9L213.2 51.1L214.2 50.3L215.2 49.5L216.2 48.7L217.2 48.0L218.2 47.3L219.2 46.7L220.2 46.0L221.2 45.5L222.2 44.9L223.2 44.4L224.2 43.9L225.2 43.4L226.2 43.0L227.2 42.5L228.2 42.2L229.2 41.8L230.2 41.5L231.2 41.2L232.2 41.0L233.2 40.8L234.2 40.6L235.2 40.4L236.2 40.3L237.2 40.2L238.2 40.1L239.2 40.1L240.2 40.1L241.2 40.2L242.2 40.3L243.2 40.5L244.2 40.6L245.2 40.9L246.2 41.1L247.2 41.5L248.2 41.8L249.2 42.2L250.2 42.7L251.2 43.2L252.2 43.8L253.2 44.4L254.2 45.0L255.2 45.7L256.2 46.4L257.2 47.2L258.2 48.1L259.2 49.0L260.2 49.9L261.2 50.9L262.2 51.9L263.2 53.0L264.2 54.2L265.2 55.4L266.2 56.6L267.2 57.9L268.2 59.3L269.2 60.7L270.2 62.2L271.2 63.7L272.2 65.2L273.2 66.9L274.2 68.5L275.2 70.3L276.2 72.1L277.2 73.9L278.2 75.8L279.2 77.8L280.2 79.8L281.2 81.9L282.2 84.0L283.2 86.2L284.2 88.4L285.2 90.7L286.2 93.0L287.2 95.3L288.2 97.7L289.2 100.1L290.2 102.5L291.2 104.9L292.2 107.3L293.2 109.7L294.2 112.1L295.2 114.5L296.2 117.0L297.2 119.4L298.2 121.8L299.2 124.2L300.2 126.6L301.2 129.0L302.2 131.5L303.2 133.9L304.2 136.3L305.2 138.8L306.2 141.2L307.2 143.7L308.2 146.1L309.2 148.6L310.2 151.1L311.2 153.6L312.2 156.0L313.2 158.5L314.2 160.9L315.2 163.3L316.2 165.7L317.2 168.1L318.2 170.4L319.2 172.7L320.2 174.9L321.2 177.1L322.2 179.3L323.2 181.3L324.2 183.4L325.2 185.3L326.2 187.3L327.2 189.2L328.2 191.0L329.2 192.8L330.2 194.6L331.2 196.3L332.2 198.1L333.2 199.8L334.2 201.4L335.2 203.1L336.2 204.7L337.2 206.3L338.2 207.9L339.2 209.5L340.2 211.1L341.2 212.7L342.2 214.3L343.2 215.8L344.2 217.4L345.2 218.9L346.2 220.4L347.2 221.9L348.2 223.3L349.2 224.7L350.2 226.1L351.2 227.4L352.2 228.7L353.2 229.9L354.2 231.1L355.2 232.2L356.2 233.3L357.2 234.4L358.2 235.5L359.2 236.6L360.2 237.5L361.2 238.7L362.2 240.0L363.2 240.5L364.2 241.4L365.2 241.9L366.2 243.0L367.2 244.2L368.2 245.4L369.2 246.4L370.2 246.7L371.2 247.2L372.2 248.3L373.2 250.0L374.2 249.9L375.2 251.0L376.2 252.4L377.2 252.1L378.2 253.5L379.2 254.6L380.2 254.6L381.2 255.6L382.2 256.5L383.2 257.0L384.2 257.7L385.2 258.4L386.2 259.1L387.2 259.8L388.2 260.4L389.2 261.1L390.2 261.7L391.2 262.4L392.2 263.0L393.2 263.7L394.2 264.3L395.2 264.9L396.2 265.5L397.2 266.1L398.2 266.7L399.2 267.3L400.2 267.9L401.2 268.5L402.2 269.0L403.2 269.6L404.2 270.1L405.2 270.7L406.2 271.2L407.2 271.7L408.2 272.2L409.2 272.7L410.2 273.2L411.2 273.7L412.2 274.2L413.2 274.6L414.2 275.1L415.2 275.5L416.2 275.9L417.2 276.3L418.2 276.8L419.2 277.1L420.2 277.5L421.2 277.9L422.2 278.3L423.2 278.6L424.2 279.0L425.2 279.4L426.2 279.7L427.2 280.0L428.2 280.3L429.2 280.6L430.2 281.0L431.2 281.3L432.2 281.6L433.2 281.8L434.2 282.1L435.2 282.4L436.2 282.6L437.2 282.9L438.2 283.1L439.2 283.4L440.2 283.6L441.2 283.9L442.2 284.1L443.2 284.3L444.2 284.5L445.2 284.7L446.2 284.9L447.2 285.1L448.2 285.3L449.2 285.5L450.2 285.7L451.2 285.9L452.2 286.0L453.2 286.2L454.2 286.4L455.2 286.5L456.2 286.7L457.2 286.8L458.2 286.9L459.2 287.1L460.2 287.2L461.2 287.3L462.2 287.5L463.2 287.6L464.2 287.7L465.2 287.8L466.2 287.9L467.2 288.0L468.2 288.1L469.2 288.2L470.2 288.3L471.2 288.4L472.2 288.5L473.2 288.6L474.2 288.6L475.2 288.7L476.2 288.8L477.2 288.9L478.2 288.9L479.2 289.0L480.2 289.0L481.2 289.1L482.2 289.1L483.2 289.2L484.2 289.2L485.2 289.3L486.2 289.3L487.2 289.4L488.2 289.4L489.2 289.4L490.2 289.5L491.2 289.5L492.2 289.6L493.2 289.6L494.2 289.6L495.2 289.6L496.2 289.7L497.2 289.7L498.2 289.7L499.2 289.7L500.2 289.7L501.2 289.8L502.2 289.8L503.2 289.8L504.2 289.8L505.2 289.8L506.2 289.8L507.2 289.8L508.2 289.9L509.2 289.9L510.2 289.9L511.2 289.9L512.2 289.9L513.2 289.9L514.2 289.9L515.2 289.9L516.2 289.9L517.2 289.9L518.2 290.0L519.2 290.0L520.2 290.0L521.2 290.0L522.2 290.0L523.2 290.0L524.2 290.0L525.2 290.1L526.3 290.1" stroke="#000000"/>
</g>
<rect x="388.5" y="34.8" width="108" height="135" fill="#fff" stroke="#2b2b2b" stroke-width="1"/>
<g font-family="'Liberation Sans', Arial, sans-serif" font-weight="bold" fill="#000" stroke="#000" stroke-width="0.25" stroke-linejoin="round">
<line x1="404.9" y1="46.1" x2="418" y2="46.1" stroke="#1a6dd3" stroke-width="1.5"/>
<text x="419.5" y="49.3" font-size="8.9" textLength="54.7" lengthAdjust="spacingAndGlyphs">PPP+0wt%CF</text>
<line x1="404.9" y1="68.4" x2="418" y2="68.4" stroke="#fa7223" stroke-width="1.5"/>
<text x="419.5" y="71.6" font-size="8.9" textLength="62.3" lengthAdjust="spacingAndGlyphs">PPP+0.3wt%CF</text>
<line x1="404.9" y1="90.8" x2="418" y2="90.8" stroke="#3aab36" stroke-width="1.5"/>
<text x="419.5" y="94.0" font-size="8.9" textLength="62.3" lengthAdjust="spacingAndGlyphs">PPP+0.6wt%CF</text>
<line x1="404.9" y1="113.5" x2="418" y2="113.5" stroke="#bfbfbf" stroke-width="1.5"/>
<text x="419.5" y="116.7" font-size="8.9" textLength="54.7" lengthAdjust="spacingAndGlyphs">PPP+1wt%CF</text>
<line x1="404.9" y1="135.9" x2="418" y2="135.9" stroke="#ffc000" stroke-width="1.5"/>
<text x="419.5" y="139.1" font-size="8.9" textLength="54.7" lengthAdjust="spacingAndGlyphs">PPP+5wt%CF</text>
<line x1="404.9" y1="158.3" x2="418" y2="158.3" stroke="#000000" stroke-width="1.5"/>
<text x="419.5" y="161.5" font-size="8.9" textLength="58.8" lengthAdjust="spacingAndGlyphs">PPP+10wt%CF</text>
<text x="34.5" y="48.9" font-size="10.4" textLength="27.2" lengthAdjust="spacingAndGlyphs">2 × 10</text><text x="62.0" y="45.3" font-size="6.6">8</text>
<text x="34.5" y="109.9" font-size="10.4" textLength="37.0" lengthAdjust="spacingAndGlyphs">1.5 × 10</text><text x="71.8" y="106.3" font-size="6.6">8</text>
<text x="34.5" y="171.6" font-size="10.4" textLength="28.0" lengthAdjust="spacingAndGlyphs">1 × 10</text><text x="62.8" y="168.0" font-size="6.6">8</text>
<text x="34.5" y="234.0" font-size="10.4" textLength="28.0" lengthAdjust="spacingAndGlyphs">5 × 10</text><text x="62.8" y="230.4" font-size="6.6">7</text>
<text x="44.6" y="296.2" font-size="10.4" textLength="5.2" lengthAdjust="spacingAndGlyphs">0</text>
<clipPath id="c35"><path d="M70 312V304.5H77.5L80.7 303.3V300H100V312Z"/></clipPath>
<text x="81.0" y="308.6" font-size="9.5" text-anchor="middle" textLength="10.2" lengthAdjust="spacingAndGlyphs" clip-path="url(#c35)">35</text>
<text x="138.3" y="308.6" font-size="9.5" text-anchor="middle" textLength="10.2" lengthAdjust="spacingAndGlyphs">55</text>
<text x="195.7" y="308.6" font-size="9.5" text-anchor="middle" textLength="10.2" lengthAdjust="spacingAndGlyphs">75</text>
<text x="253.2" y="308.6" font-size="9.5" text-anchor="middle" textLength="10.2" lengthAdjust="spacingAndGlyphs">95</text>
<text x="310.7" y="308.6" font-size="9.5" text-anchor="middle" textLength="15.3" lengthAdjust="spacingAndGlyphs">115</text>
<text x="368.0" y="308.6" font-size="9.5" text-anchor="middle" textLength="15.3" lengthAdjust="spacingAndGlyphs">135</text>
<text x="425.3" y="308.6" font-size="9.5" text-anchor="middle" textLength="15.3" lengthAdjust="spacingAndGlyphs">155</text>
<text x="483.4" y="308.6" font-size="9.5" text-anchor="middle" textLength="15.3" lengthAdjust="spacingAndGlyphs">175</text>
<text x="244.6" y="323.1" font-size="10.5" textLength="65.7" lengthAdjust="spacingAndGlyphs">Temperature (</text>
<text x="310.5" y="319.4" font-size="6.5">0</text>
<text x="314.6" y="323.1" font-size="10.5" textLength="9.6" lengthAdjust="spacingAndGlyphs">C)</text>
<text transform="translate(22.0 205.0) rotate(-90)" font-size="10.5" textLength="86" lengthAdjust="spacingAndGlyphs">Loss Modulus (Pa)</text>
</g>
</svg>
</body></html>
